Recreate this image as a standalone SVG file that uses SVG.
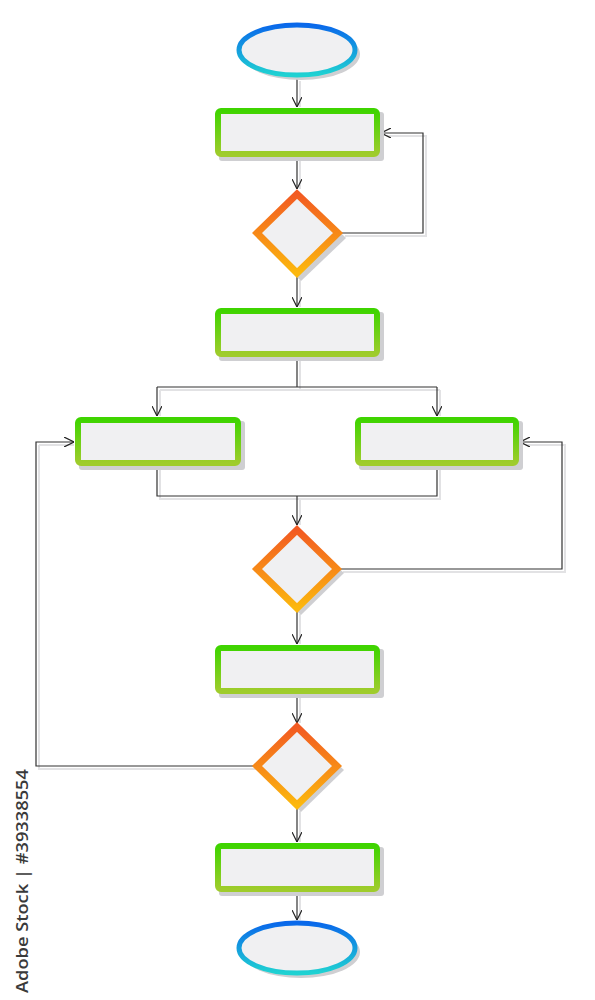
<svg xmlns="http://www.w3.org/2000/svg" width="595" height="1000" viewBox="0 0 595 1000">
<defs>
<linearGradient id="gGreen" x1="0" y1="0" x2="0" y2="1"><stop offset="0" stop-color="#3fd400"/><stop offset="1" stop-color="#9fcc2c"/></linearGradient>
<linearGradient id="gOrange" x1="0" y1="0" x2="0" y2="1"><stop offset="0" stop-color="#f25a22"/><stop offset="1" stop-color="#fcb80e"/></linearGradient>
<linearGradient id="gBlue" x1="0" y1="0" x2="0" y2="1"><stop offset="0" stop-color="#0a68ea"/><stop offset="1" stop-color="#1fd2d2"/></linearGradient>
<marker id="arr" viewBox="0 0 10 10" refX="10" refY="5" markerWidth="10" markerHeight="10" markerUnits="userSpaceOnUse" orient="auto">
<path d="M0,0 L10,5 L0,10" fill="none" stroke="#222" stroke-width="1.2"/>
</marker>
<style>
.shadow{fill:#cfcfd2;}
.box{fill:#f0f0f2;stroke:url(#gGreen);stroke-width:6;}
.dia{fill:#f0f0f2;stroke:url(#gOrange);stroke-width:7;stroke-linejoin:miter;}
.ell{fill:#f0f0f2;stroke:url(#gBlue);stroke-width:5;}
.ln{fill:none;stroke:#333;stroke-width:1.2;}
.lns{fill:none;stroke:#e2e2e4;stroke-width:2;}
.wm{font-family:"Open Sans","DejaVu Sans",sans-serif;font-size:17px;font-weight:600;fill:#3a3a3a;}
</style>
</defs>
<rect width="595" height="1000" fill="#ffffff"/>

<g id="connectors">
<g transform="translate(3,3)">
<path class="lns" d="M297,78 V104 M297,157 V186 M342,233 H423 V133 H384 M297,277 V304 M297,356 V387 M157,387 H437 M157,387 V413 M437,387 V413 M157,466 V496 H437 V466 M297,496 V522 M340,569 H562 V442 H523 M36,442 H71 M256,766 H36 V442 M297,611 V641 M297,693 V720 M297,808 V839 M297,892 V917"/>
</g>
<path class="ln" marker-end="url(#arr)" d="M297,78 V107"/>
<path class="ln" marker-end="url(#arr)" d="M297,157 V189"/>
<path class="ln" marker-end="url(#arr)" d="M342,233 H423 V133 H381"/>
<path class="ln" marker-end="url(#arr)" d="M297,277 V307"/>
<path class="ln" d="M297,356 V387 M157,387 H437"/>
<path class="ln" marker-end="url(#arr)" d="M157,387 V416"/>
<path class="ln" marker-end="url(#arr)" d="M437,387 V416"/>
<path class="ln" d="M157,466 V496 H437 V466"/>
<path class="ln" marker-end="url(#arr)" d="M297,496 V525"/>
<path class="ln" marker-end="url(#arr)" d="M340,569 H562 V442 H520"/>
<path class="ln" marker-end="url(#arr)" d="M256,766 H36 V442 H74"/>
<path class="ln" marker-end="url(#arr)" d="M297,611 V644"/>
<path class="ln" marker-end="url(#arr)" d="M297,693 V723"/>
<path class="ln" marker-end="url(#arr)" d="M297,808 V842"/>
<path class="ln" marker-end="url(#arr)" d="M297,892 V920"/>
</g>

<g id="start">
<ellipse class="shadow" cx="301" cy="54" rx="59" ry="26"/>
<ellipse class="ell" cx="297" cy="50" rx="58" ry="25"/>
</g>

<g id="process1">
<rect class="shadow" x="219" y="112" width="165" height="49" rx="3"/>
<rect class="box" x="218" y="111" width="159" height="43" rx="3"/>
</g>

<g id="decision1">
<path class="shadow" d="M301,194 L346,238 L301,281 L257,238 Z"/>
<path class="dia" d="M297,194 L338,233 L297,273 L257,233 Z"/>
</g>

<g id="process2">
<rect class="shadow" x="219" y="312" width="165" height="49" rx="3"/>
<rect class="box" x="218" y="311" width="159" height="43" rx="3"/>
</g>

<g id="processLeft">
<rect class="shadow" x="79" y="421" width="166" height="49" rx="3"/>
<rect class="box" x="78" y="420" width="160" height="43" rx="3"/>
</g>

<g id="processRight">
<rect class="shadow" x="359" y="421" width="164" height="49" rx="3"/>
<rect class="box" x="358" y="420" width="158" height="43" rx="3"/>
</g>

<g id="decision2">
<path class="shadow" d="M301,534 L344,573 L301,615 L258,573 Z"/>
<path class="dia" d="M297,530 L337,569 L297,608 L257,569 Z"/>
</g>

<g id="process3">
<rect class="shadow" x="219" y="649" width="165" height="49" rx="3"/>
<rect class="box" x="218" y="648" width="159" height="43" rx="3"/>
</g>

<g id="decision3">
<path class="shadow" d="M301,731 L344,770 L301,812 L258,770 Z"/>
<path class="dia" d="M297,727 L337,766 L297,805 L257,766 Z"/>
</g>

<g id="process4">
<rect class="shadow" x="219" y="847" width="165" height="49" rx="3"/>
<rect class="box" x="218" y="846" width="159" height="43" rx="3"/>
</g>

<g id="end">
<ellipse class="shadow" cx="301" cy="952" rx="59" ry="26"/>
<ellipse class="ell" cx="297" cy="948" rx="58" ry="25"/>
</g>

<text class="wm" transform="translate(28,993) rotate(-90)" textLength="224" lengthAdjust="spacingAndGlyphs">Adobe Stock | #39338554</text>
</svg>
